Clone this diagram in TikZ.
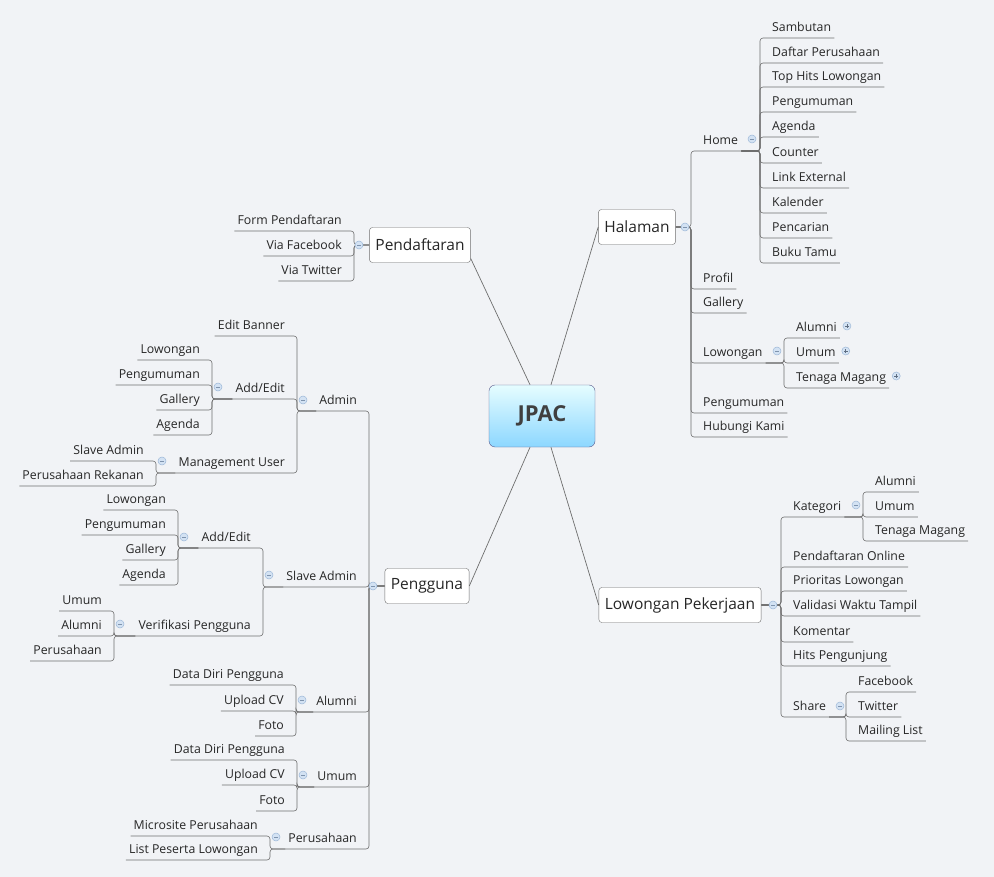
\documentclass[tikz,border=0pt]{standalone}
\usepackage{fontspec}
\setmainfont{Open Sans}
\usetikzlibrary{calc}
\definecolor{bg}{HTML}{F1F3F6}
\definecolor{ln}{HTML}{6E6E6E}
\definecolor{cf}{HTML}{D3E2F3}
\definecolor{cd}{HTML}{9DB8D8}
\newcommand\er[2]{\draw[conn] (#1.south east) -- (#2.south west |- #1.south east) -- (#2.south west) -- (#2.south east);}
\newcommand\el[2]{\draw[conn] (#1.south west) -- (#2.south east |- #1.south west) -- (#2.south east) -- (#2.south west);}
\newcommand\ebr[2]{\draw[conn] (#1.east) -- (#2.south west |- #1.east) -- (#2.south west) -- (#2.south east);}
\newcommand\ebl[2]{\draw[conn] (#1.west) -- (#2.south east |- #1.west) -- (#2.south east) -- (#2.south west);}
\newcommand\mcirc[1]{\node[mc] at (#1) {};}
\newcommand\pcirc[1]{\node[mc,pc] at ($(#1.south east)+(7,-12)$) {};}
\begin{document}
\begin{tikzpicture}[x=1pt,y=-1pt,
  conn/.style={draw=ln,line width=0.6pt,rounded corners=3pt},
  tx/.style={inner xsep=3pt,inner ysep=4pt,text height=9pt,text depth=2pt,font=\fontsize{12.3}{14}\selectfont,text=black!85},
  rt/.style={tx,anchor=south west,execute at begin node=\hspace*{9pt}},
  lt/.style={tx,anchor=south east,execute at end node=\hspace*{9pt}},
  box/.style={draw=ln,fill=white,rounded corners=3pt,minimum height=35pt,inner xsep=6pt,font=\fontsize{15.5}{18}\selectfont,text=black!85},
  mc/.style={circle,fill=cf,draw=cd,line width=0.5pt,minimum size=8pt,inner sep=0pt,
    path picture={\draw[cd!80!black,line width=0.6pt] ($(path picture bounding box.center)+(-2pt,0)$)--($(path picture bounding box.center)+(2pt,0)$);}},
  pc/.style={path picture={\draw[cd!60!black,line width=0.6pt] ($(path picture bounding box.center)+(-2pt,0)$)--($(path picture bounding box.center)+(2pt,0)$) ($(path picture bounding box.center)+(0,-2pt)$)--($(path picture bounding box.center)+(0,2pt)$);}}
]
\fill[bg] (0,0) rectangle (994,877);
\useasboundingbox (0,0) rectangle (994,877);

% root and main topics
\node[draw=ln!80!blue,rounded corners=6pt,top color=blue!8!cyan!10,bottom color=blue!35!cyan!45,minimum width=106pt,minimum height=62pt,font=\fontsize{22}{24}\selectfont\bfseries,text=black!75] (root) at (542,416) {JPAC};
\node[box] (H) at (637,227) {Halaman};
\node[box] (PD) at (420,245) {Pendaftaran};
\node[box] (PG) at (427,586) {Pengguna};
\node[box] (LP) at (680,605) {Lowongan Pekerjaan};
\draw[ln,line width=0.7pt] (root.74) -- (H.west);
\draw[ln,line width=0.7pt] (root.111) -- (PD.-15);
\draw[ln,line width=0.7pt] (root.249) -- (PG.east);
\draw[ln,line width=0.7pt] (root.286) -- (LP.west);

% Halaman
\node[rt] (hm) at (691,151) {Home};
\node[rt] (pr) at (691,289) {Profil};
\node[rt] (ga) at (691,313) {Gallery};
\node[rt] (lw) at (691,363) {Lowongan};
\node[rt] (pg) at (691,413) {Pengumuman};
\node[rt] (hk) at (691,437) {Hubungi Kami};
\foreach \c in {hm,pr,ga,lw,pg,hk} {\ebr{H}{\c}}
\node[rt] (h1) at (760,38) {Sambutan};
\node[rt] (h2) at (760,63) {Daftar Perusahaan};
\node[rt] (h3) at (760,87) {Top Hits Lowongan};
\node[rt] (h4) at (760,112) {Pengumuman};
\node[rt] (h5) at (760,137) {Agenda};
\node[rt] (h6) at (760,163) {Counter};
\node[rt] (h7) at (760,188) {Link External};
\node[rt] (h8) at (760,213) {Kalender};
\node[rt] (h9) at (760,238) {Pencarian};
\node[rt] (h10) at (760,263) {Buku Tamu};
\foreach \c in {h1,h2,h3,h4,h5,h6,h7,h8,h9,h10} {\er{hm}{\c}}
\node[rt] (l1) at (784,338) {Alumni};
\node[rt] (l2) at (784,363) {Umum};
\node[rt] (l3) at (784,388) {Tenaga Magang};
\foreach \c in {l1,l2,l3} {\er{lw}{\c}}
\pcirc{l1}\pcirc{l2}\pcirc{l3}
\mcirc{685,227}\mcirc{752,139}\mcirc{777,351}

% Pendaftaran
\node[lt] (d1) at (354,231) {Form Pendaftaran};
\node[lt] (d2) at (354,256) {Via Facebook};
\node[lt] (d3) at (354,281) {Via Twitter};
\foreach \c in {d1,d2,d3} {\ebl{PD}{\c}}
\mcirc{359,245}

% Pengguna
\node[lt] (ad) at (369,411) {Admin};
\node[lt] (sa) at (369,587) {Slave Admin};
\node[lt] (al) at (369,712) {Alumni};
\node[lt] (um) at (369,787) {Umum};
\node[lt] (pe) at (369,849) {Perusahaan};
\foreach \c in {ad,sa,al,um,pe} {\ebl{PG}{\c}}
\mcirc{373,586}
\node[lt] (a1) at (297,336) {Edit Banner};
\node[lt] (a2) at (297,399) {Add/Edit};
\node[lt] (a3) at (297,473) {Management User};
\foreach \c in {a1,a2,a3} {\el{ad}{\c}}
\mcirc{303,400}
\node[lt] (e1) at (212,360) {Lowongan};
\node[lt] (e2) at (212,385) {Pengumuman};
\node[lt] (e3) at (212,410) {Gallery};
\node[lt] (e4) at (212,435) {Agenda};
\foreach \c in {e1,e2,e3,e4} {\el{a2}{\c}}
\mcirc{218,387}
\node[lt] (m1) at (156,461) {Slave Admin};
\node[lt] (m2) at (156,486) {Perusahaan Rekanan};
\foreach \c in {m1,m2} {\el{a3}{\c}}
\mcirc{162,461}
\node[lt] (s1) at (263,548) {Add/Edit};
\node[lt] (s2) at (263,636) {Verifikasi Pengguna};
\foreach \c in {s1,s2} {\el{sa}{\c}}
\mcirc{269,575}
\node[lt] (f1) at (178,510) {Lowongan};
\node[lt] (f2) at (178,535) {Pengumuman};
\node[lt] (f3) at (178,560) {Gallery};
\node[lt] (f4) at (178,585) {Agenda};
\foreach \c in {f1,f2,f3,f4} {\el{s1}{\c}}
\mcirc{184,537}
\node[lt] (v1) at (114,611) {Umum};
\node[lt] (v2) at (114,636) {Alumni};
\node[lt] (v3) at (114,661) {Perusahaan};
\foreach \c in {v1,v2,v3} {\el{s2}{\c}}
\mcirc{120,624}
\node[lt] (b1) at (296,685) {Data Diri Pengguna};
\node[lt] (b2) at (296,711) {Upload CV};
\node[lt] (b3) at (296,736) {Foto};
\foreach \c in {b1,b2,b3} {\el{al}{\c}}
\mcirc{302,700}
\node[lt] (c1) at (297,760) {Data Diri Pengguna};
\node[lt] (c2) at (297,785) {Upload CV};
\node[lt] (c3) at (297,811) {Foto};
\foreach \c in {c1,c2,c3} {\el{um}{\c}}
\mcirc{303,775}
\node[lt] (p1) at (270,836) {Microsite Perusahaan};
\node[lt] (p2) at (270,860) {List Peserta Lowongan};
\foreach \c in {p1,p2} {\el{pe}{\c}}
\mcirc{276,837}

% Lowongan Pekerjaan
\node[rt] (k0) at (781,517) {Kategori};
\node[rt] (o1) at (781,567) {Pendaftaran Online};
\node[rt] (o2) at (781,591) {Prioritas Lowongan};
\node[rt] (o3) at (781,616) {Validasi Waktu Tampil};
\node[rt] (o4) at (781,642) {Komentar};
\node[rt] (o5) at (781,666) {Hits Pengunjung};
\node[rt] (sh) at (781,717) {Share};
\foreach \c in {k0,o1,o2,o3,o4,o5,sh} {\ebr{LP}{\c}}
\mcirc{773,605}
\node[rt] (k1) at (863,492) {Alumni};
\node[rt] (k2) at (863,517) {Umum};
\node[rt] (k3) at (863,541) {Tenaga Magang};
\foreach \c in {k1,k2,k3} {\er{k0}{\c}}
\mcirc{856,505}
\node[rt] (t1) at (846,692) {Facebook};
\node[rt] (t2) at (846,717) {Twitter};
\node[rt] (t3) at (846,741) {Mailing List};
\foreach \c in {t1,t2,t3} {\er{sh}{\c}}
\mcirc{840,706}
\end{tikzpicture}
\end{document}
